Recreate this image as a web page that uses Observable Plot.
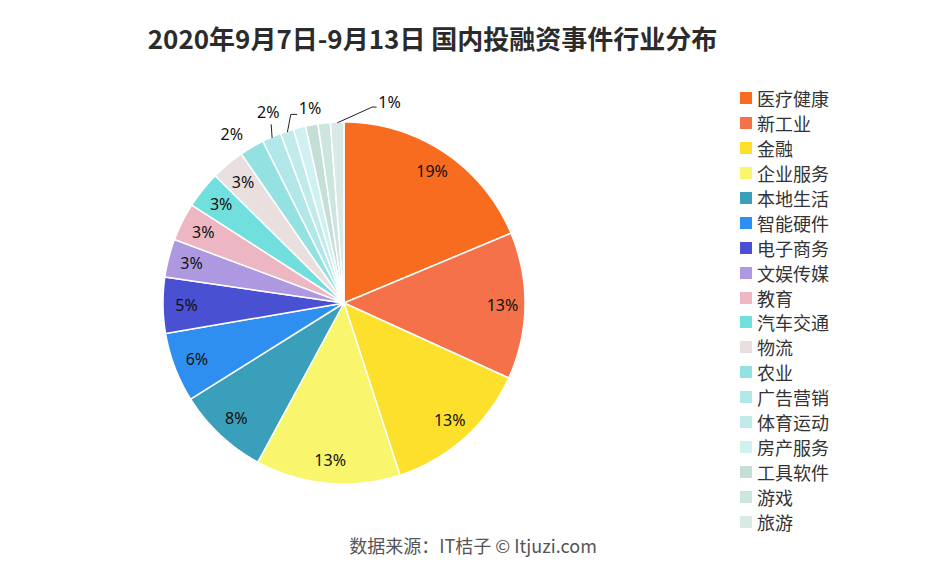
<!DOCTYPE html>
<html>
<head>
<meta charset="utf-8">
<script src="https://cdn.jsdelivr.net/npm/d3@7"></script>
<script src="https://cdn.jsdelivr.net/npm/@observablehq/plot@0.6"></script>
<style>
  html, body { margin: 0; padding: 0; background: #fff; }
  #chart { position: relative; width: 944px; height: 568px; overflow: hidden;
           font-family: "Noto Sans", "Noto Sans CJK SC", sans-serif; }
  #title { position: absolute; left: 0; top: 23px; width: 865px; text-align: center;
           font: 700 26px/30px "Noto Sans CJK SC", sans-serif; color: #2b2b2b; }
  #pie { position: absolute; left: 0; top: 60px; }
  #legend { position: absolute; left: 740px; top: 86px; }
  .row { height: 24.9px; display: flex; align-items: center; }
  .sw { width: 12px; height: 12px; margin-right: 5px; }
  .lab { font: 18px/20px "Noto Sans CJK SC", sans-serif; color: #333; }
  #caption { position: absolute; left: 0; top: 534px; width: 946px; text-align: center;
             font: 18px/22px "Noto Sans CJK SC", sans-serif; color: #555; }
</style>
</head>
<body>
<div id="chart">
  <div id="title">2020年9月7日-9月13日 国内投融资事件行业分布</div>
  <div id="pie"></div>
  <div id="legend"></div>
  <div id="caption">数据来源：IT桔子 © Itjuzi.com</div>
</div>
<script>
// Industry shares of domestic investment events (percent of all events)
const categories = ["医疗健康", "新工业", "金融", "企业服务", "本地生活", "智能硬件", "电子商务", "文娱传媒", "教育",
  "汽车交通", "物流", "农业", "广告营销", "体育运动", "房产服务", "工具软件", "游戏", "旅游"];
const shares = [18.7, 13.1, 13.2, 12.9, 8.2, 6.2, 5.0, 3.4, 3.4, 3.3, 3.0, 2.2, 1.7, 1.2, 1.1, 1.1, 1.1, 1.2];
const colors = ["#f76c1f", "#f4714a", "#fde02b", "#f9f56c", "#3a9fba", "#2f8ff0", "#4a50d2", "#ae99e0", "#ecb6c2",
  "#70dfde", "#e8dfde", "#94e1e1", "#b1e7e8", "#c1ebeb", "#d0f1f1", "#c5dfd7", "#cde5df", "#d9e9e5"];

// Small slices get their label outside, on a leader line (angle nudge in degrees, elbow radius, tail length)
const callouts = {
  "农业":     {line: false, nudge: 0,    r: 1.08,  tail: 0,     anchor: "end",    dx: -2, dy: 0},
  "广告营销": {line: true,  nudge: 1.3,  r: 1.068, tail: 0,     anchor: "middle", dx: -3, dy: -12},
  "体育运动": {line: true,  nudge: 2.5,  r: 1.086, tail: 0.033, anchor: "start",  dx: 2,  dy: -6},
  "旅游":     {line: true,  nudge: 10.2, r: 1.096, tail: 0.022, anchor: "start",  dx: 2,  dy: -4}
};

const total = d3.sum(shares);
const rad = Math.PI / 180;
const slices = [];
let acc = 0;
categories.forEach((category, i) => {
  const a0 = acc / total * 2 * Math.PI;
  acc += shares[i];
  const a1 = acc / total * 2 * Math.PI;
  slices.push({category, share: shares[i], a0, a1, mid: (a0 + a1) / 2,
               pct: Math.round(shares[i] / total * 100) + "%"});
});

// Wedge outlines: arc points paired with the centre
const arcRows = [];
for (const s of slices) {
  const n = Math.max(2, Math.ceil((s.a1 - s.a0) / (0.5 * rad)));
  for (let k = 0; k <= n; ++k) {
    const a = s.a0 + (s.a1 - s.a0) * k / n;
    arcRows.push({category: s.category, x: Math.sin(a), y: Math.cos(a), cx: 0, cy: 0});
  }
}

const insideRows = slices.filter(s => s.share / total >= 0.025).map(s => ({
  text: s.pct, x: 0.873 * Math.sin(s.mid), y: 0.873 * Math.cos(s.mid)
}));

const leaderRows = [];
const outsideRows = [];
for (const s of slices) {
  const c = callouts[s.category];
  if (!c) continue;
  const ea = s.mid + c.nudge * rad;
  const ex = c.r * Math.sin(ea), ey = c.r * Math.cos(ea);
  if (c.line) {
    leaderRows.push({category: s.category, x: Math.sin(s.mid), y: Math.cos(s.mid)});
    leaderRows.push({category: s.category, x: ex, y: ey});
    leaderRows.push({category: s.category, x: ex + c.tail, y: ey});
  }
  outsideRows.push({text: s.pct, x: ex + c.tail, y: ey, anchor: c.anchor, dx: c.dx, dy: c.dy});
}

const plot = Plot.plot({
  width: 944,
  height: 474,
  marginLeft: 163,
  marginRight: 419,
  marginTop: 62,
  marginBottom: 50,
  x: {domain: [-1, 1], axis: null},
  y: {domain: [-1, 1], axis: null},
  color: {domain: categories, range: colors},
  style: {fontFamily: "'Noto Sans', 'Noto Sans CJK SC', sans-serif", background: "transparent"},
  marks: [
    Plot.area(arcRows, {x1: "x", y1: "y", x2: "cx", y2: "cy", z: "category", fill: "category",
                        stroke: "white", strokeWidth: 1.5, strokeLinejoin: "round", curve: "linear"}),
    Plot.text(insideRows, {x: "x", y: "y", text: "text", fontSize: 16, fill: "#111"}),
    Plot.line(leaderRows, {x: "x", y: "y", z: "category", stroke: "#222", strokeWidth: 1}),
    ...outsideRows.map(d => Plot.text([d], {x: "x", y: "y", text: "text", fontSize: 16, fill: "#111",
                                            textAnchor: d.anchor, dx: d.dx, dy: d.dy}))
  ]
});
document.getElementById("pie").append(plot);

// Legend built from the plot's own colour scale
const color = plot.scale("color");
const legend = document.getElementById("legend");
categories.forEach((c, i) => {
  const row = document.createElement("div");
  row.className = "row";
  const sw = document.createElement("div");
  sw.className = "sw";
  sw.style.background = color.range[i];
  const lab = document.createElement("span");
  lab.className = "lab";
  lab.textContent = c;
  row.append(sw, lab);
  legend.append(row);
});
</script>
</body>
</html>
